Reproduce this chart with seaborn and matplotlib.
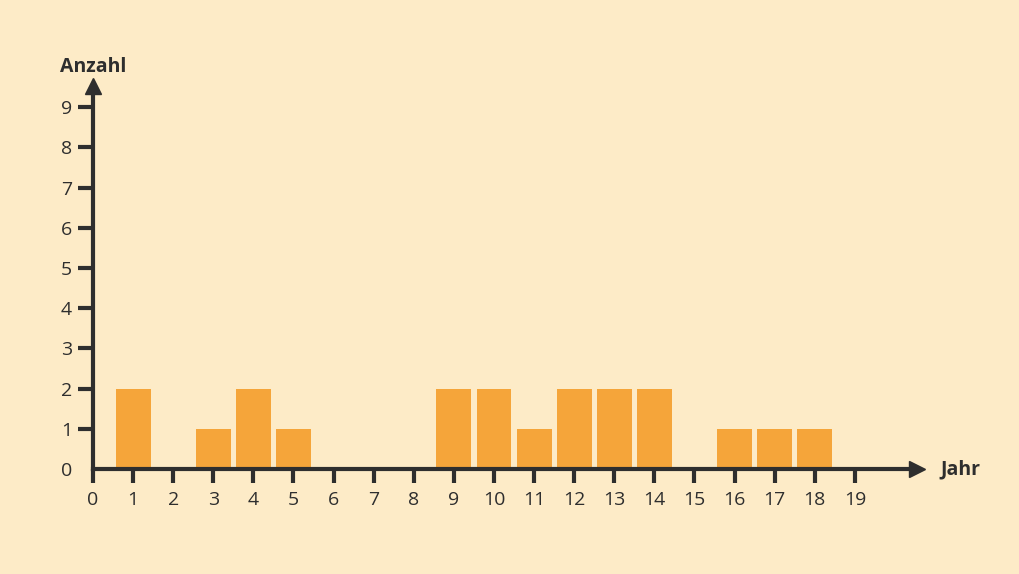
import matplotlib.pyplot as plt
import pandas as pd
import seaborn as sns

years = list(range(20))
counts = [0, 2, 0, 1, 2, 1, 0, 0, 0, 2, 2, 1, 2, 2, 2, 0, 1, 1, 1, 0]
y_ticks = list(range(10))

bg = "#FDEBC7"
bar_color = "#F5A53A"
dark = "#2E2E2E"

sns.set_theme(style="white")
plt.rcParams["font.family"] = ["Open Sans", "DejaVu Sans"]

data = pd.DataFrame({"Jahr": years, "Anzahl": counts})

fig = plt.figure(figsize=(10.2, 5.74), dpi=100, facecolor=bg)
ax = fig.add_axes([93 / 1020, 105 / 574, 824 / 1020, 383 / 574])
ax.set_facecolor(bg)

sns.barplot(data=data, x="Jahr", y="Anzahl", color=bar_color, saturation=1,
            width=0.87, linewidth=0, edgecolor="none", ax=ax)

ax.set_xlim(0, 824 / 40.1)
ax.set_ylim(0, 383 / 40.2)
ax.set_xticks(years)
ax.set_xticklabels([str(y) for y in years])
ax.set_yticks(y_ticks)
ax.set_yticklabels([str(y) for y in y_ticks])
ax.set_xlabel("")
ax.set_ylabel("")

for s in ["top", "right"]:
    ax.spines[s].set_visible(False)
for s in ["left", "bottom"]:
    ax.spines[s].set_color(dark)
    ax.spines[s].set_linewidth(3)
    ax.spines[s].set_zorder(3)

ax.tick_params(axis="x", direction="out", length=10, width=3, color=dark,
               labelsize=14, labelcolor=dark, pad=6, bottom=True)
ax.tick_params(axis="y", direction="out", length=11, width=3, color=dark,
               labelsize=14, labelcolor=dark, pad=4, left=True)
ax.yaxis.get_major_ticks()[0].tick1line.set_visible(False)

# arrow heads
ax.plot(1, 0, marker=">", markersize=12, color=dark, transform=ax.get_yaxis_transform(),
        clip_on=False, zorder=4)
ax.plot(0, 1, marker="^", markersize=12, color=dark, transform=ax.get_xaxis_transform(),
        clip_on=False, zorder=4)

fig.text(60 / 1020, 1 - 67 / 574, "Anzahl", fontsize=14, fontweight="bold",
         color=dark, ha="left", va="center")
fig.text(940 / 1020, 1 - 469 / 574, "Jahr", fontsize=14, fontweight="bold",
         color=dark, ha="left", va="center")

fig.savefig("out.png", dpi=100, facecolor=bg)
